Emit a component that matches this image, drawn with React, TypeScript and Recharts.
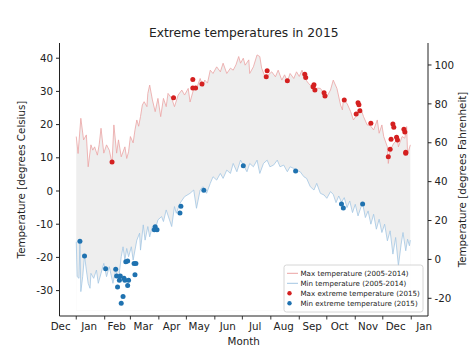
import { ComposedChart, Area, Line, Scatter, XAxis, YAxis } from 'recharts';

document.body.style.margin = '0';

const FONT = '"DejaVu Sans", sans-serif';
const INK = '#222';
const MAX_LINE = '#eba3a3';
const MIN_LINE = '#a3c6e3';
const RED = '#d42020';
const BLUE = '#1f72b0';

// record highs / lows 2005-2014, day of year -> degrees C
const maxDays = [0, 2, 5, 8, 11, 13, 16, 18, 20, 23, 25, 27, 30, 33, 36, 39, 41, 44, 46, 49, 53, 55, 57, 59, 62, 64, 66, 68, 70, 72, 74, 77, 78, 80, 83, 86, 89, 92, 95, 98, 100, 104, 107, 111, 115, 118, 122, 124, 128, 131, 135, 138, 140, 143, 146, 149, 153, 157, 160, 164, 168, 171, 174, 177, 179, 182, 184, 188, 189, 193, 197, 200, 202, 206, 209, 213, 217, 220, 224, 227, 230, 233, 237, 240, 243, 246, 249, 253, 257, 260, 263, 266, 270, 273, 277, 280, 284, 288, 290, 291, 295, 299, 302, 306, 310, 313, 317, 320, 324, 328, 330, 333, 335, 339, 340, 342, 346, 350, 351, 355, 358, 360, 361, 364];
const maxTemps = [16.4, 11.3, 21.9, 15.4, 16.9, 7.3, 13.9, 12.3, 13.3, 10.8, 14.0, 18.9, 11.4, 13.9, 12.3, 8.4, 19.9, 11.4, 15.4, 10.3, 13.3, 9.8, 11.8, 16.4, 14.5, 18.4, 21.4, 19.5, 22.4, 25.9, 26.9, 25.4, 29.4, 31.9, 27.4, 23.9, 27.9, 22.4, 27.9, 25.4, 29.4, 27.9, 25.4, 28.9, 30.4, 28.9, 30.9, 26.8, 30.8, 30.8, 33.9, 31.5, 33.4, 32.5, 36.4, 35.4, 37.4, 35.9, 38.5, 35.4, 37.0, 36.4, 38.0, 40.5, 38.5, 40.0, 37.9, 39.5, 35.4, 37.4, 41.0, 40.5, 37.0, 34.2, 34.9, 35.9, 34.4, 36.4, 33.4, 35.0, 33.0, 35.4, 33.9, 35.9, 34.5, 36.4, 34.0, 32.4, 31.4, 30.2, 31.0, 30.9, 29.4, 28.4, 30.4, 33.4, 30.9, 25.9, 24.4, 27.4, 26.4, 23.9, 21.4, 23.0, 24.9, 22.4, 19.9, 19.8, 18.4, 21.4, 17.4, 19.9, 16.4, 13.3, 8.3, 12.3, 14.4, 15.4, 13.3, 16.4, 15.9, 19.4, 11.0, 13.9];

const minDays = [0, 1, 3, 4, 5, 7, 9, 11, 13, 15, 16, 19, 22, 24, 27, 30, 33, 36, 40, 43, 46, 49, 51, 53, 55, 57, 60, 62, 66, 69, 70, 73, 75, 78, 80, 83, 86, 89, 93, 95, 98, 104, 107, 109, 113, 118, 124, 128, 131, 135, 138, 142, 146, 149, 153, 157, 160, 164, 168, 171, 175, 179, 182, 186, 189, 193, 197, 200, 204, 208, 211, 215, 219, 222, 226, 230, 233, 237, 240, 244, 248, 251, 255, 259, 262, 266, 270, 273, 277, 280, 283, 286, 289, 292, 295, 298, 301, 304, 307, 310, 312, 315, 318, 321, 324, 327, 330, 333, 336, 339, 342, 345, 348, 351, 354, 356, 359, 361, 363, 364];
const minTemps = [-15.3, -25.8, -26.3, -15.0, -30.3, -25.8, -19.4, -23.8, -27.8, -29.3, -24.8, -26.3, -23.8, -27.8, -24.8, -21.8, -25.8, -22.8, -27.8, -23.8, -26.8, -19.8, -16.8, -20.8, -17.3, -19.8, -16.8, -20.8, -14.8, -12.7, -17.8, -10.2, -14.8, -10.7, -13.8, -10.7, -11.7, -8.7, -7.7, -9.2, -5.7, -10.7, -4.7, -6.7, -3.7, -1.7, -0.7, 0.3, -5.2, 0.3, 1.3, -0.7, 2.3, 4.3, 3.3, 5.3, 3.8, 6.3, 5.3, 8.3, 5.8, 9.3, 7.8, 5.8, 8.3, 7.3, 9.3, 5.3, 8.3, 9.3, 7.3, 7.8, 9.3, 7.3, 7.8, 5.8, 7.3, 6.8, 6.2, 5.8, 4.3, 3.8, 1.3, 0.3, 2.3, -0.7, -1.2, -2.2, -0.2, -1.0, -3.5, -1.5, -3.4, -2.0, -5.0, -3.0, -6.5, -4.0, -7.5, -5.0, -3.7, -8.0, -6.0, -10.0, -7.0, -11.5, -8.5, -12.5, -10.0, -15.0, -12.0, -19.0, -14.0, -22.5, -16.0, -12.5, -18.0, -14.5, -16.5, -14.8];

// 2015 days beating the records
const highDays2015 = [39, 106, 127, 127, 130, 137, 207, 208, 230, 249, 250, 258, 259, 260, 270, 271, 292, 305, 307, 308, 309, 321, 340, 342, 343, 345, 346, 349, 350, 357, 358, 359, 359];
const highTemps2015 = [8.7, 28.1, 33.6, 31.0, 31.0, 32.2, 34.4, 36.2, 33.2, 35.2, 34.2, 31.4, 32.0, 30.4, 29.6, 28.6, 27.4, 23.2, 26.6, 26.0, 24.2, 20.4, 10.3, 12.6, 15.6, 20.2, 19.2, 16.2, 15.4, 18.6, 17.8, 11.7, 11.4];
const lowDays2015 = [4, 9, 32, 43, 44, 45, 47, 48, 49, 51, 52, 53, 54, 56, 56, 57, 63, 64, 65, 85, 86, 88, 113, 114, 139, 182, 239, 289, 291, 312];
const lowTemps2015 = [-15.1, -19.6, -23.4, -23.6, -25.6, -28.9, -26.9, -25.6, -33.8, -31.8, -26.3, -26.9, -21.3, -21.1, -28.5, -26.9, -21.8, -25.2, -21.8, -11.7, -10.8, -11.7, -6.6, -4.6, 0.2, 7.6, 6.0, -3.9, -5.1, -3.9];

const monthStarts = [0, 31, 59, 90, 120, 151, 181, 212, 243, 273, 304, 334, 365];
const labelDays = [-17, 14, 44, 73, 104, 134, 165, 195, 226, 257, 287, 318, 348, 379];
const monthLabels = ['Dec', 'Jan', 'Feb', 'Mar', 'Apr', 'May', 'Jun', 'Jul', 'Aug', 'Sep', 'Oct', 'Nov', 'Dec', 'Jan'];
const celsiusTicks = [-30, -20, -10, 0, 10, 20, 30, 40];
const fahrenheitTicks = [-20, 0, 20, 40, 60, 80, 100];

const toPoints = (days: number[], temps: number[]) => days.map((day, i) => ({ day, temp: temps[i] }));

const maxSeries = toPoints(maxDays, maxTemps);
const minSeries = toPoints(minDays, minTemps);
const highs = toPoints(highDays2015, highTemps2015);
const lows = toPoints(lowDays2015, lowTemps2015);

const xTicks = [...monthStarts, ...labelDays].sort((a, b) => a - b);

function MonthTick({ x, y, payload }: { x: number; y: number; payload: { value: number } }) {
  const i = labelDays.indexOf(payload.value);
  if (i < 0) {
    return <line x1={x} x2={x} y1={y} y2={y + 3.5} stroke={INK} strokeWidth={0.9} />;
  }
  return (
    <text x={x} y={y + 14} textAnchor="middle" fill={INK} fontSize={10.3} fontFamily={FONT}>
      {monthLabels[i]}
    </text>
  );
}

const dot = (color: string) => (p: { cx?: number; cy?: number }) => (
  <circle cx={p.cx} cy={p.cy} r={2.5} fill={color} />
);

const legendRows = [
  { label: 'Max temperature (2005-2014)', kind: 'line', color: MAX_LINE },
  { label: 'Min temperature (2005-2014)', kind: 'line', color: MIN_LINE },
  { label: 'Max extreme temperature (2015)', kind: 'dot', color: RED },
  { label: 'Min extreme temperature (2015)', kind: 'dot', color: BLUE }
];

export default function App() {
  const axisTick = { fill: INK, fontSize: 10.3, fontFamily: FONT };
  return (
    <div style={{ position: 'relative', width: 474, height: 355, background: '#fff' }}>
      <ComposedChart width={474} height={355} margin={{ top: 43, right: 6, bottom: 9, left: 14.5 }}>
        <XAxis
          dataKey="day"
          type="number"
          domain={[-18.25, 383.25]}
          allowDataOverflow
          ticks={xTicks}
          interval={0}
          tick={MonthTick}
          tickSize={0}
          tickMargin={0}
          tickLine={false}
          height={30}
          stroke={INK}
        />
        <XAxis
          xAxisId="top"
          orientation="top"
          type="number"
          domain={[-18.25, 383.25]}
          allowDataOverflow
          height={0}
          tick={false}
          tickLine={false}
          stroke={INK}
        />
        <YAxis
          yAxisId="c"
          type="number"
          domain={[-37.65, 44.58]}
          allowDataOverflow
          ticks={celsiusTicks}
          width={45}
          tickSize={3.5}
          tickMargin={3}
          tick={axisTick}
          stroke={INK}
        />
        <YAxis
          yAxisId="f"
          orientation="right"
          type="number"
          domain={[-29.1, 111.3]}
          allowDataOverflow
          ticks={fahrenheitTicks}
          width={40}
          tickSize={3.5}
          tickMargin={3}
          tick={axisTick}
          stroke={INK}
        />
        <Area data={maxSeries} yAxisId="c" dataKey="temp" type="linear" stroke="none" fill="#eeeeee" fillOpacity={1} baseValue={-36} isAnimationActive={false} />
        <Area data={minSeries} yAxisId="c" dataKey="temp" type="linear" stroke="none" fill="#ffffff" fillOpacity={1} baseValue={-36} isAnimationActive={false} />
        <Line data={maxSeries} yAxisId="c" dataKey="temp" type="linear" stroke={MAX_LINE} strokeWidth={0.8} dot={false} isAnimationActive={false} />
        <Line data={minSeries} yAxisId="c" dataKey="temp" type="linear" stroke={MIN_LINE} strokeWidth={0.8} dot={false} isAnimationActive={false} />
        <Scatter data={highs} yAxisId="c" dataKey="temp" shape={dot(RED)} isAnimationActive={false} />
        <Scatter data={lows} yAxisId="c" dataKey="temp" shape={dot(BLUE)} isAnimationActive={false} />
      </ComposedChart>

      <svg width={474} height={355} style={{ position: 'absolute', left: 0, top: 0, pointerEvents: 'none' }} fontFamily={FONT}>
        <text x={243.75} y={36.5} textAnchor="middle" fontSize={12.3} fill={INK}>Extreme temperatures in 2015</text>
        <text x={243.75} y={344.5} textAnchor="middle" fontSize={10.3} fill={INK}>Month</text>
        <text x={0} y={0} transform="translate(21 179.5) rotate(-90)" textAnchor="middle" dominantBaseline="central" fontSize={10.3} fill={INK}>
          Temperature [degrees Celsius]
        </text>
        <text x={0} y={0} transform="translate(462 179.5) rotate(-90)" textAnchor="middle" dominantBaseline="central" fontSize={10.3} fill={INK}>
          Temperature [degrees Fahrenheit]
        </text>

        <rect x={284} y={265} width={139} height={47} rx={2.5} fill="#fff" fillOpacity={0.8} stroke="#cccccc" strokeWidth={0.8} />
        {legendRows.map((r, i) => {
          const cy = 273.3 + i * 10;
          return (
            <g key={r.label}>
              {r.kind === 'line' ? (
                <line x1={287} x2={298} y1={cy} y2={cy} stroke={r.color} strokeWidth={1} />
              ) : (
                <circle cx={289.5} cy={cy} r={2.2} fill={r.color} />
              )}
              <text x={300.5} y={cy} dominantBaseline="central" fontSize={7.1} fill={INK}>{r.label}</text>
            </g>
          );
        })}
      </svg>
    </div>
  );
}
